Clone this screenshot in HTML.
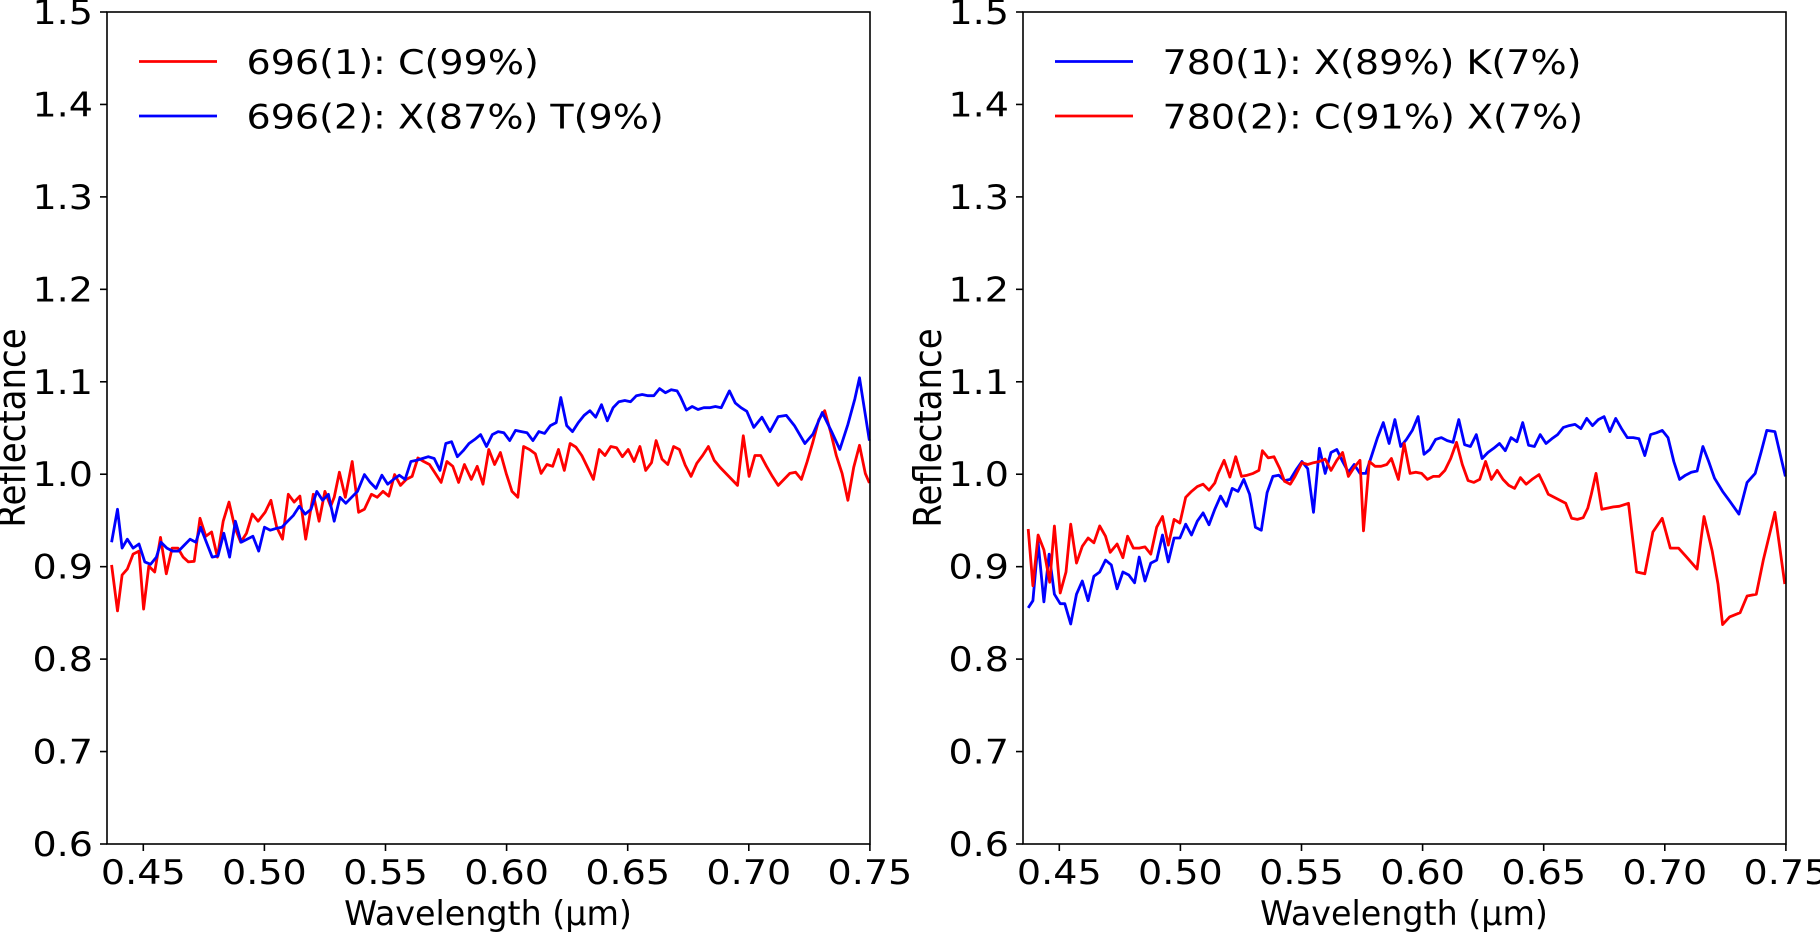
<!DOCTYPE html>
<html><head><meta charset="utf-8"><style>
html,body{margin:0;padding:0;background:#fff;}
svg{display:block;font-family:"DejaVu Sans","Liberation Sans",sans-serif;}
</style></head><body>
<svg id="s" width="1820" height="940" viewBox="0 0 1820 940" xmlns="http://www.w3.org/2000/svg"></svg>
<script>
const svg=document.getElementById('s');
function el(t,a,txt){const e=document.createElementNS('http://www.w3.org/2000/svg',t);for(const k in a)e.setAttribute(k,a[k]);if(txt!==undefined)e.textContent=txt;svg.appendChild(e);return e;}
const FS=34, SX=1.12;
function txt(x,y,s,anchor,sx){return el('text',{x:0,y:0,'font-size':FS,'text-anchor':anchor||'start',transform:`translate(${x},${y}) scale(${sx||SX},1)`},s);}
function panel(X0,zx0,legend,series){
  const X1=X0+763,Y0=12,Y1=844;
  const tx=zx=>X0+(zx-zx0)*0.5811, ty=zy=>12+(zy-18)*0.5977;
  for(const s of series){
    const pts=s.d.map(p=>tx(p[0]).toFixed(1)+','+ty(p[1]).toFixed(1)).join(' ');
    el('polyline',{points:pts,fill:'none',stroke:s.c,'stroke-width':2.8,'stroke-linejoin':'round'});
  }
  el('rect',{x:X0,y:Y0,width:X1-X0,height:Y1-Y0,fill:'none',stroke:'#000','stroke-width':1.6});
  for(let i=0;i<=9;i++){
    const y=Y1-(Y1-Y0)*i/9;
    el('line',{x1:X0-7,x2:X0,y1:y,y2:y,stroke:'#000','stroke-width':1.6});
    txt(X0-14,y+12,(0.6+i*0.1).toFixed(1),'end');
  }
  ['0.45','0.50','0.55','0.60','0.65','0.70','0.75'].forEach((t,i)=>{
    const x=X0+36.3+i*121.1;
    el('line',{x1:x,x2:x,y1:Y1,y2:Y1+7,stroke:'#000','stroke-width':1.6});
    txt(x,Y1+40,t,'middle');
  });
  txt(X0+381,925,'Wavelength (µm)','middle',0.98);
  el('text',{x:0,y:0,'font-size':FS,'text-anchor':'middle',transform:`translate(${X0-82},428) rotate(-90) scale(1,${SX})`},'Reflectance');
  legend.forEach((l,i)=>{
    const y=61.5+i*54.5;
    el('line',{x1:X0+32,x2:X0+110,y1:y,y2:y,stroke:l.c,'stroke-width':2.8});
    txt(X0+139.5,y+12.5,l.t);
  });
}
const LR=[[193,943],[203,1020],[211,960],[220,950],[230,925],[240,920],[248,1017],[257,945],[267,955],[277,897],[287,958],[297,915],[307,915],[316,930],[325,938],[335,937],[345,865],[355,895],[365,888],[375,930],[385,870],[395,838],[405,880],[415,905],[425,890],[435,858],[445,870],[457,855],[467,835],[477,880],[487,900],[497,825],[507,838],[517,828],[527,900],[540,825],[550,870],[560,820],[570,845],[576,830],[585,788],[595,830],[607,770],[618,855],[628,850],[640,825],[650,830],[660,820],[670,828],[680,792],[690,810],[700,800],[710,795],[720,764],[730,770],[740,775],[750,790],[760,805],[770,770],[780,778],[790,805],[800,775],[812,800],[822,778],[832,808],[842,750],[852,775],[862,755],[872,790],[882,820],[892,830],[902,745],[912,750],[922,757],[932,790],[942,775],[952,778],[962,750],[972,785],[982,740],[992,746],[1002,760],[1012,780],[1022,800],[1032,750],[1042,760],[1052,745],[1062,747],[1072,762],[1082,750],[1092,770],[1102,745],[1112,785],[1122,772],[1130,735],[1140,766],[1150,775],[1160,745],[1170,750],[1180,776],[1190,795],[1200,773],[1210,760],[1220,745],[1230,768],[1240,780],[1250,790],[1260,800],[1270,810],[1280,727],[1290,795],[1300,760],[1310,760],[1320,778],[1330,795],[1340,810],[1350,800],[1360,790],[1370,788],[1380,800],[1390,770],[1400,737],[1410,700],[1420,685],[1430,720],[1440,760],[1450,790],[1460,835],[1470,780],[1480,743],[1490,790],[1497,806]];
const LB=[[193,905],[203,850],[211,915],[220,900],[230,915],[240,908],[250,938],[260,942],[270,930],[278,905],[288,915],[298,920],[308,920],[318,910],[328,900],[338,905],[346,880],[356,905],[366,930],[376,928],[386,890],[396,930],[406,870],[416,905],[426,900],[436,895],[446,920],[456,880],[466,885],[476,882],[486,880],[496,870],[506,860],[516,845],[526,858],[536,850],[546,820],[556,835],[566,825],[576,870],[586,830],[596,840],[606,830],[616,820],[628,792],[638,805],[648,815],[658,793],[668,808],[678,800],[688,793],[698,800],[708,770],[718,768],[728,765],[738,762],[748,765],[758,785],[768,740],[778,737],[788,762],[798,752],[808,740],[818,733],[828,725],[838,745],[848,725],[858,720],[868,722],[878,735],[888,718],[898,720],[908,722],[918,735],[928,720],[938,723],[948,710],[958,705],[966,663],[976,710],[986,720],[996,705],[1006,693],[1016,685],[1026,696],[1036,675],[1046,702],[1056,680],[1066,670],[1076,668],[1086,670],[1096,660],[1106,658],[1116,660],[1126,660],[1136,648],[1146,655],[1156,650],[1166,652],[1172,662],[1182,684],[1192,678],[1202,683],[1212,680],[1222,680],[1232,678],[1242,680],[1256,652],[1266,672],[1276,680],[1286,686],[1298,713],[1312,696],[1326,720],[1340,695],[1354,693],[1368,710],[1386,740],[1400,724],[1416,688],[1432,720],[1446,750],[1460,708],[1472,665],[1480,630],[1488,680],[1497,735]];
const RB=[[203,1015],[211,1003],[220,905],[230,1005],[239,925],[248,992],[258,1008],[266,1008],[276,1042],[286,992],[296,970],[306,1003],[316,962],[326,955],[336,935],[346,943],[356,983],[366,955],[376,960],[386,973],[394,930],[404,970],[414,940],[424,935],[434,893],[444,938],[454,898],[464,898],[474,875],[484,893],[494,870],[504,856],[514,876],[524,850],[534,828],[544,845],[554,815],[564,820],[574,800],[584,825],[594,880],[604,885],[614,822],[624,795],[634,793],[644,802],[654,800],[664,784],[674,770],[684,782],[694,855],[704,748],[714,790],[724,755],[734,750],[744,770],[754,788],[764,775],[774,790],[784,790],[794,760],[804,730],[814,705],[824,740],[834,700],[844,745],[854,733],[864,718],[874,695],[884,758],[894,750],[904,733],[914,730],[924,735],[934,738],[944,700],[954,742],[964,745],[974,725],[984,765],[994,755],[1004,748],[1014,740],[1024,752],[1034,730],[1044,737],[1054,705],[1064,743],[1074,745],[1084,725],[1094,740],[1104,732],[1114,725],[1124,713],[1134,710],[1144,708],[1154,715],[1164,698],[1174,710],[1184,700],[1194,695],[1204,720],[1214,698],[1224,715],[1234,730],[1244,730],[1254,732],[1264,760],[1274,725],[1284,722],[1294,718],[1304,730],[1314,770],[1324,800],[1334,793],[1344,788],[1354,786],[1364,745],[1374,770],[1384,798],[1398,820],[1410,836],[1426,858],[1440,805],[1454,790],[1464,755],[1474,718],[1488,720],[1506,795]];
const RR=[[203,883],[211,978],[220,893],[230,918],[240,972],[248,878],[258,990],[268,955],[276,875],[286,940],[296,912],[306,898],[316,906],[326,878],[336,895],[344,922],[356,908],[366,931],[374,895],[384,915],[394,915],[404,913],[414,925],[424,880],[434,862],[444,910],[454,867],[464,873],[474,830],[484,820],[494,812],[504,808],[514,818],[524,806],[530,790],[540,768],[550,796],[560,762],[570,795],[580,793],[590,790],[600,785],[606,752],[616,764],[626,762],[636,782],[644,803],[654,808],[662,795],[674,772],[684,775],[694,772],[704,770],[714,766],[724,785],[734,768],[744,755],[754,795],[764,780],[774,768],[780,886],[790,770],[800,778],[810,778],[820,775],[828,765],[840,800],[850,740],[860,790],[870,788],[880,790],[890,800],[900,795],[910,795],[920,785],[930,765],[940,738],[950,775],[960,802],[970,805],[980,800],[990,770],[1000,800],[1010,785],[1020,800],[1030,810],[1040,815],[1050,797],[1060,808],[1070,800],[1082,792],[1090,808],[1098,825],[1108,830],[1118,835],[1128,840],[1138,865],[1148,867],[1158,864],[1166,848],[1172,825],[1180,790],[1190,850],[1200,848],[1210,846],[1220,845],[1236,840],[1250,955],[1264,958],[1278,888],[1294,865],[1308,915],[1322,915],[1336,930],[1354,950],[1366,862],[1380,920],[1390,975],[1398,1043],[1410,1030],[1428,1023],[1440,995],[1456,992],[1468,935],[1488,855],[1505,975]];
panel(107,185,[{c:'#ff0000',t:'696(1): C(99%)'},{c:'#0000ff',t:'696(2): X(87%) T(9%)'}],[{c:'#ff0000',d:LR},{c:'#0000ff',d:LB}]);
panel(1023,194,[{c:'#0000ff',t:'780(1): X(89%) K(7%)'},{c:'#ff0000',t:'780(2): C(91%) X(7%)'}],[{c:'#0000ff',d:RB},{c:'#ff0000',d:RR}]);
</script>
</body></html>
